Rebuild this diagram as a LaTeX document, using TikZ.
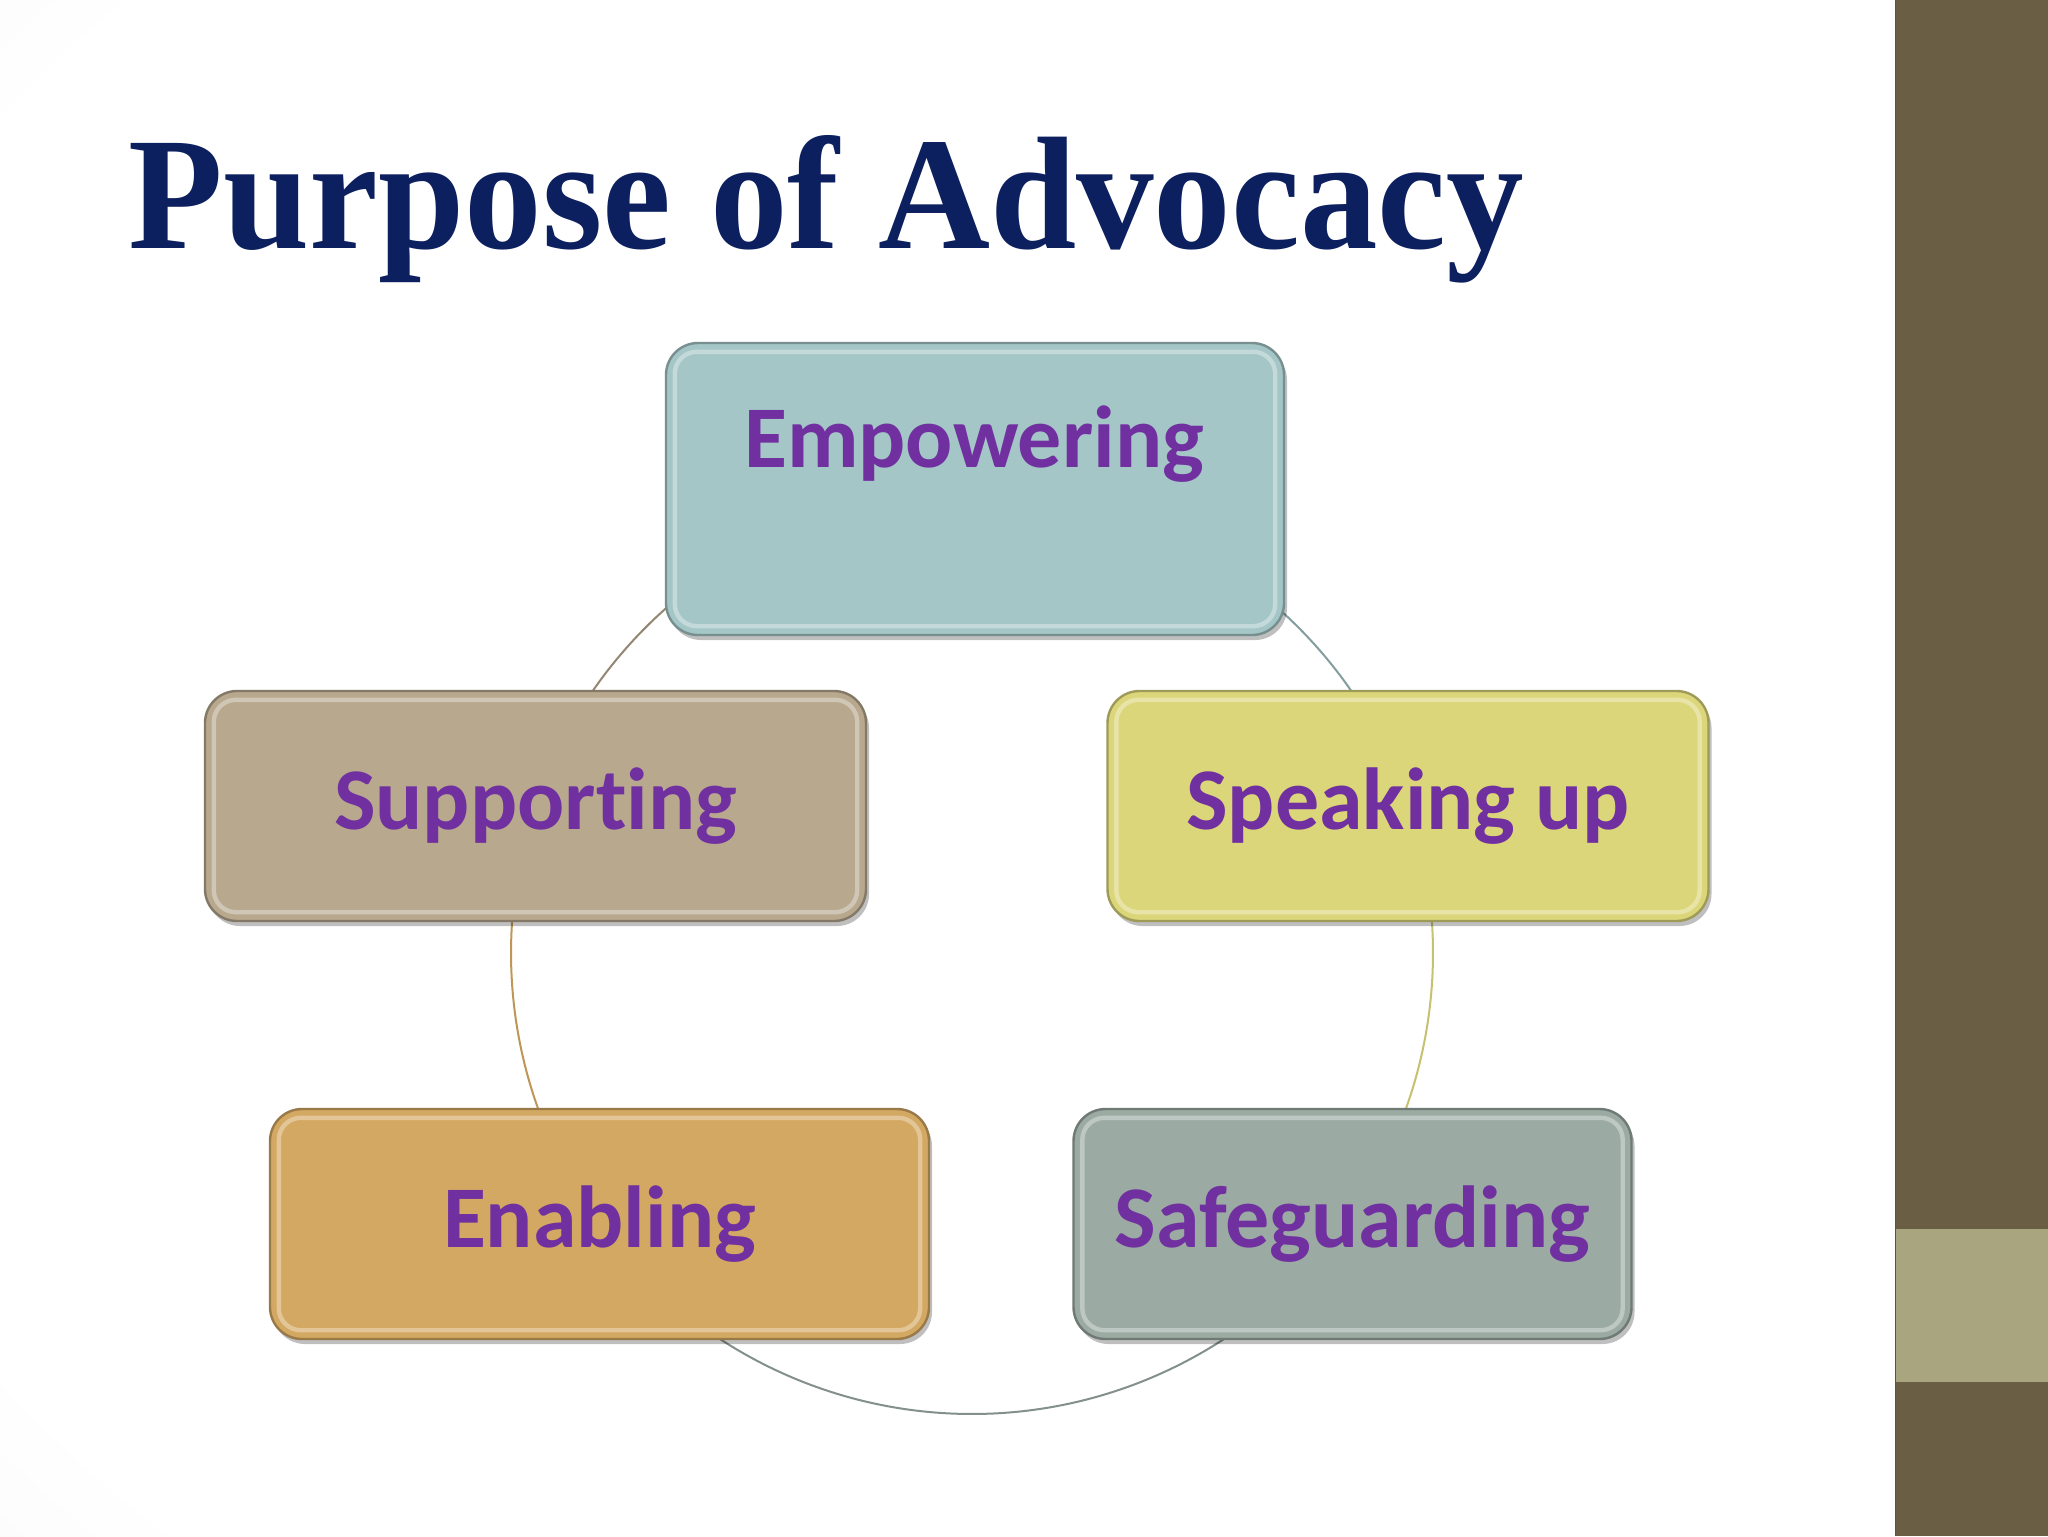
\documentclass[tikz,border=0pt]{standalone}
\usepackage{fontspec}
\setmainfont{Liberation Serif}
\newfontfamily\boxfont[Ligatures=NoCommon]{Carlito}
\usetikzlibrary{shadows}
\definecolor{titleblue}{HTML}{0C1F5E}
\definecolor{txtpurple}{HTML}{7030A0}
\definecolor{cEmp}{HTML}{A5C6C7}
\definecolor{cSup}{HTML}{B8A88E}
\definecolor{cSpk}{HTML}{DCD67A}
\definecolor{cEna}{HTML}{D3A862}
\definecolor{cSaf}{HTML}{9BAAA3}
\definecolor{barbrown}{HTML}{6A5E45}
\definecolor{barlight}{HTML}{A9A57F}
\pgfdeclareradialshading{vignette}{\pgfpoint{0bp}{0bp}}{color(0bp)=(white); color(24bp)=(white); color(52bp)=(black!13)}
\tikzset{
  pbox/.style={rounded corners=16pt, draw=#1!72!black, line width=1.2pt, fill=#1,
    drop shadow={shadow xshift=1.5pt, shadow yshift=-2.5pt, opacity=.25, fill=black},
    text=txtpurple, font=\boxfont\bfseries\fontsize{44pt}{48pt}\selectfont, inner sep=0pt},
  txt/.style={text=txtpurple, font=\boxfont\bfseries\fontsize{44pt}{48pt}\selectfont, inner sep=0pt},
  ring/.style={line width=1pt, draw=#1}
}
\newcommand\bevelhl[1]{\draw[white, opacity=.35, line width=2.2pt, rounded corners=11pt] ([xshift=5pt,yshift=-5pt]#1.north west) rectangle ([xshift=-5pt,yshift=5pt]#1.south east);}
\begin{document}
\begin{tikzpicture}[x=0.5pt,y=-0.5pt]
\useasboundingbox (0,0) rectangle (2048,1536);
% background
\begin{scope}
\clip (0,0) rectangle (1895,1536);
\shade[shading=vignette] (-300,-400) rectangle (2800,1900);
\end{scope}
\fill[barbrown] (1895,0) rectangle (2048,1536);
\fill[barlight] (1895,1229) rectangle (2048,1382);
\draw[black!30!barbrown!80!green, line width=0.8pt] (1895.5,0) -- (1895.5,1536);
% title
\node[anchor=base west, inner sep=0pt, text=titleblue] (title) at (128,248)
  {\resizebox{697.5pt}{56.5pt}{\bfseries Purpose of Advocacy}};
% ring segments
\coordinate (c) at (972,953);
\draw[ring=cEmp!80!black] (c) ++(-90:461) arc[start angle=-90, end angle=-18.6, radius=461];
\draw[ring=cSpk!90!black] (c) ++(-18.6:461) arc[start angle=-18.6, end angle=35.5, radius=461];
\draw[ring=cSaf!85!black] (c) ++(35.5:461) arc[start angle=35.5, end angle=144, radius=461];
\draw[ring=cEna!90!black] (c) ++(144:461) arc[start angle=144, end angle=198.6, radius=461];
\draw[ring=cSup!80!black] (c) ++(198.6:461) arc[start angle=198.6, end angle=270, radius=461];
% boxes
\node[pbox=cEmp, minimum width=309pt, minimum height=146pt] (emp) at (975,489) {};
\node[txt, anchor=base] (emptxt) at (974,467) {Empowering};
\node[pbox=cSup, minimum width=330.5pt, minimum height=115pt] (sup) at (535.5,806) {Supporting};
\node[pbox=cSpk, minimum width=300.5pt, minimum height=115pt] (spk) at (1408,806) {Speaking up};
\node[pbox=cEna, minimum width=329.5pt, minimum height=115pt] (ena) at (599.5,1224) {Enabling};
\node[pbox=cSaf, minimum width=279pt, minimum height=115pt] (saf) at (1352.5,1224) {Safeguarding};
\bevelhl{emp}\bevelhl{sup}\bevelhl{spk}\bevelhl{ena}\bevelhl{saf}
\end{tikzpicture}
\end{document}
